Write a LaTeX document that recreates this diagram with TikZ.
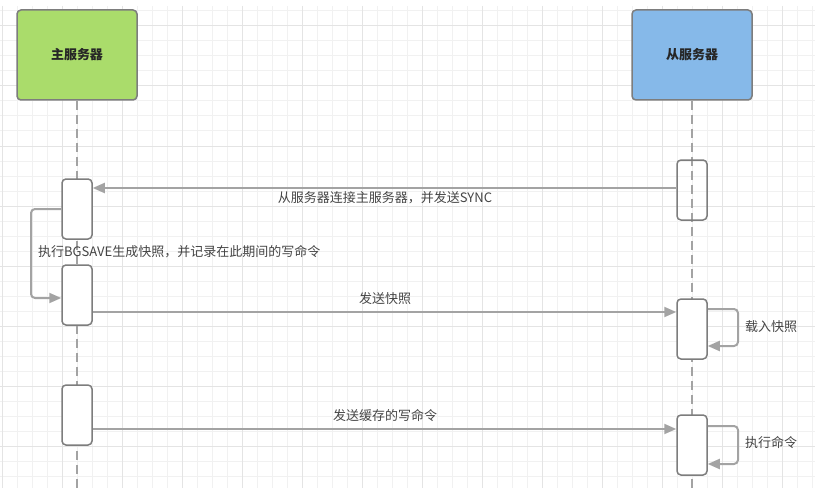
\documentclass[tikz,border=0pt]{standalone}
\usepackage{fontspec}
\setmainfont{Noto Sans CJK SC}
\usetikzlibrary{arrows.meta}
\definecolor{gridminor}{HTML}{F1F1F1}
\definecolor{gridmajor}{HTML}{E4E4E4}
\definecolor{masterfill}{HTML}{AADC6B}
\definecolor{slavefill}{HTML}{86B9E9}
\definecolor{boxline}{HTML}{7D7D7D}
\definecolor{msgline}{HTML}{A3A3A3}
\definecolor{labeltext}{HTML}{444444}
\tikzset{
	server/.style={draw=boxline,line width=1.5pt,rounded corners=4pt,minimum width=120pt,minimum height=90pt,text=black!85,font=\fontsize{13}{15}\selectfont\bfseries},
	act/.style={draw=boxline,line width=1.5pt,rounded corners=4pt,fill=white,minimum width=30pt,minimum height=60pt,inner sep=0pt},
	life/.style={msgline,line width=2pt,dash pattern=on 9pt off 5pt},
	msg/.style={msgline,line width=2pt,-{Triangle[length=12pt,width=10pt]}},
	lbl/.style={text=labeltext,font=\fontsize{13}{15}\selectfont,inner sep=0pt}
}
\begin{document}
\begin{tikzpicture}[x=1pt,y=-1pt]
		\useasboundingbox (0,0) rectangle (815,503);
		%Grid
			\begin{scope}
				\clip (0,6) rectangle (815,488);
				\foreach \x in {2,17,...,812}
					\draw[gridminor,line width=1pt] (\x,6) -- (\x,488);
				\foreach \y in {11,26,...,476}
					\draw[gridminor,line width=1pt] (0,\y) -- (815,\y);
				\foreach \x in {2,62,...,782}
					\draw[gridmajor,line width=1pt] (\x,6) -- (\x,488);
				\foreach \y in {26,86,...,446}
					\draw[gridmajor,line width=1pt] (0,\y) -- (815,\y);
			\end{scope}
		%Servers
			\node[server,fill=masterfill] (master) at (77,55) {主服务器};
			\node[server,fill=slavefill] (slave) at (692,55) {从服务器};
		%Lifelines
			\coordinate (masterend) at (77,488);
			\coordinate (slaveend) at (692,488);
			\draw[life] (master.south) -- (masterend);
			\draw[life] (slave.south) -- (slaveend);
		%Activations
			\node[act] (m1) at (77,209) {};
			\node[act] (m2) at (77,295) {};
			\node[act] (m3) at (77,415) {};
			\node[act,fill=none] (s1) at (692,190) {};
			\node[act] (s2) at (692,329) {};
			\node[act] (s3) at (692,445) {};
		%Messages
			\draw[msg] (s1.west |- 0,188) -- (m1.east |- 0,188);
			\node[lbl] (sync) at (385,198) {从服务器连接主服务器，并发送SYNC};
			\draw[msg,rounded corners=4pt] (m1.west |- 0,209) -- (31,209) -- (31,298) -- (m2.west |- 0,298);
			\node[lbl,anchor=west] (bgsave) at (38,252) {执行BGSAVE生成快照，并记录在此期间的写命令};
			\draw[msg] (m2.east |- 0,312) -- (s2.west |- 0,312);
			\node[lbl] (snap) at (385,299) {发送快照};
			\draw[msg,rounded corners=4pt] (s2.east |- 0,309) -- (738,309) -- (738,346) -- (s2.east |- 0,346);
			\node[lbl,anchor=west] (load) at (745,327) {载入快照};
			\draw[msg] (m3.east |- 0,429) -- (s3.west |- 0,429);
			\node[lbl] (cmds) at (385,416) {发送缓存的写命令};
			\draw[msg,rounded corners=4pt] (s3.east |- 0,426) -- (738,426) -- (738,464) -- (s3.east |- 0,464);
			\node[lbl,anchor=west] (exec) at (745,443) {执行命令};
	\end{tikzpicture}
\end{document}
